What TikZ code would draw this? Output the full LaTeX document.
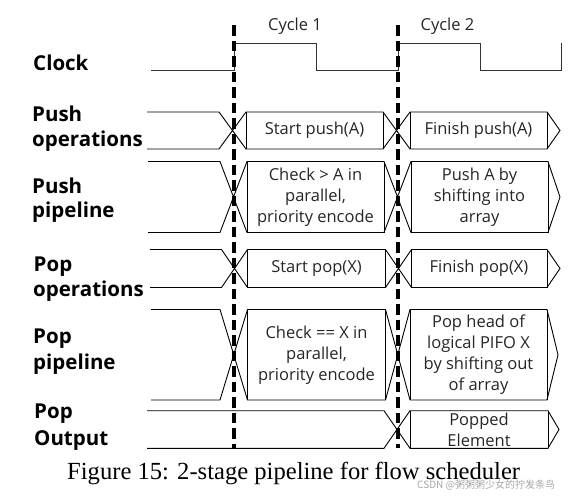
\documentclass[tikz,border=0pt]{standalone}
\usepackage{fontspec}
\setmainfont{Open Sans}
\newfontfamily\capfont{Liberation Serif}
\newfontfamily\cjkfont{Noto Sans CJK SC}
\newcommand\tmrow[9]{%
  \pgfmathsetmacro\tmM{(#1+#2)/2}%
  \draw[sig] (#3,#1) -- (#4,#1) -- (#5,#2) -- (#6,#2) -- (#7,#1) -- (#8,#1) -- (#9,\tmM) -- (#8,#2) -- (#7,#2) -- (#6,#1) -- (#5,#1) -- (#4,#2) -- (#3,#2);%
  \draw[sig] (#5,#1) -- (#5,#2) (#6,#1) -- (#6,#2) (#7,#1) -- (#7,#2) (#8,#1) -- (#8,#2);%
}
\begin{document}
\begin{tikzpicture}[x=1pt,y=-1pt,
  sig/.style={line width=0.9pt, black, line join=miter},
  clk/.style={line width=1pt, black!80},
  cycline/.style={dash pattern=on 10.5pt off 5pt, line width=3.2pt, black},
  lbl/.style={font=\fontsize{20.5}{24.5}\selectfont\bfseries, anchor=base west, inner sep=0pt},
  txt/.style={font=\fontsize{16.5}{21}\selectfont, align=center, inner sep=0pt, text=black!85},
  cyc/.style={font=\fontsize{16.5}{21}\selectfont, anchor=base, inner sep=0pt, text=black!85},
]
\useasboundingbox[fill=white] (0,0) rectangle (582,498);

% clock
\draw[clk] (151,70.7) -- (234,70.7) -- (234,43.3) -- (316,43.3) -- (316,70.7) -- (398,70.7) -- (398,43.3) -- (480,43.3) -- (480,70.7) -- (561,70.7) -- (561,43.3);

% rows
\tmrow{112}{149}{147}{219}{246}{383}{410}{547}{560}
\tmrow{161.5}{232.5}{148}{220}{247}{384}{411}{548}{560}
\tmrow{249.5}{287.5}{150}{221.5}{247.5}{385.5}{411.5}{547}{560}
\tmrow{309.5}{400}{151}{220}{247.5}{385.5}{410}{547}{558}
% pop output row
\draw[sig] (147,410.7) -- (384,410.7) -- (410,448.3) -- (548,448.3) -- (559,429.5) -- (548,410.7) -- (410,410.7) -- (384,448.3) -- (147,448.3);
\draw[sig] (410,410.7) -- (410,448.3) (548,410.7) -- (548,448.3);

% cycle boundaries
\coordinate (d1top) at (234,25);
\coordinate (d1bot) at (234,448);
\coordinate (d2top) at (398,25);
\coordinate (d2bot) at (398,448);
\draw[cycline] (d1top) -- (d1bot);
\draw[cycline] (d2top) -- (d2bot);

\node[cyc] (cy1) at (295,30) {Cycle 1};
\node[cyc] (cy2) at (447.5,30) {Cycle 2};

% labels
\node[lbl] (lclk) at (33,70) {Clock};
\node[lbl] (lpo1) at (32,121.7) {Push};
\node[lbl] (lpo2) at (32,146.3) {operations};
\node[lbl] (lpp1) at (32,193.3) {Push};
\node[lbl] (lpp2) at (32,217.5) {pipeline};
\node[lbl] (lqo1) at (33.5,271.7) {Pop};
\node[lbl] (lqo2) at (33,296.3) {operations};
\node[lbl] (lqp1) at (33,343.5) {Pop};
\node[lbl] (lqp2) at (33,369) {pipeline};
\node[lbl] (lout1) at (34,418.3) {Pop};
\node[lbl] (lout2) at (34,445) {Output};

% box texts
\node[txt] (t11) at (314.5,130.5) {Start push(A)};
\node[txt] (t12) at (478.5,130.5) {Finish push(A)};
\node[txt] (t21) at (315.5,197.5) {Check > A in\\parallel,\\priority encode};
\node[txt] (t22) at (479.5,197.5) {Push A by\\shifting into\\array};
\node[txt] (t31) at (316.5,268.5) {Start pop(X)};
\node[txt] (t32) at (479,268.5) {Finish pop(X)};
\node[txt] (t41) at (316.5,355) {Check == X in\\parallel,\\priority encode};
\node[txt] (t42) at (478.5,355) {Pop head of\\logical PIFO X\\by shifting out\\of array};
\node[txt] (t51) at (479,429.5) {Popped\\Element};

% caption
\node[font=\capfont\fontsize{24.6}{24.6}\selectfont, anchor=base west, inner sep=0pt] (cap) at (67,479) {Figure 15: 2-stage pipeline for flow scheduler};
\node[font=\cjkfont\fontsize{10}{10}\selectfont, text=gray!70, anchor=base west, inner sep=0pt] (wm) at (417,488) {CSDN @粥粥粥少女的拧发条鸟};
\end{tikzpicture}
\end{document}
